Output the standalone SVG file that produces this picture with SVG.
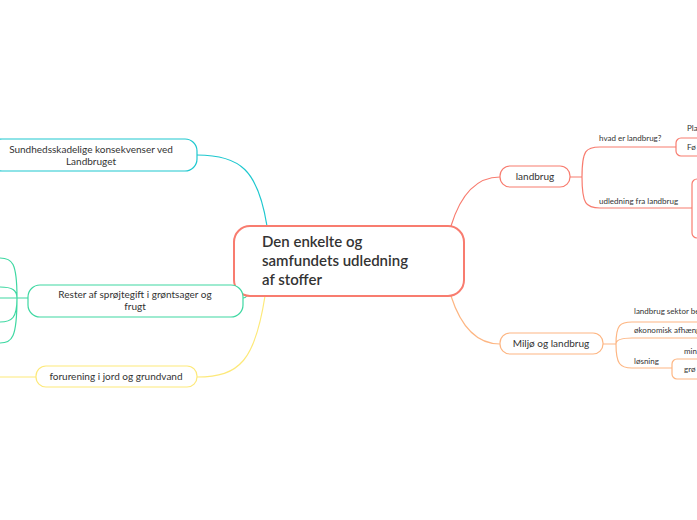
<svg xmlns="http://www.w3.org/2000/svg" width="697" height="520" viewBox="0 0 697 520">
<style>
text{font-family:"Lato","Open Sans",sans-serif;fill:#333;}
.s{font-size:10px}.m{font-size:8px}.n{fill:#fff;stroke-width:1.2}
.c{fill:none;stroke-width:1.2}
</style>
<rect width="697" height="520" fill="#fff"/>
<g id="connectors">
<path class="c" stroke="#1ec8cf" d="M267,226 C258,170 240,155 197,155"/>
<path class="c" stroke="#3ed8a2" d="M248,290 C248,296 246,298 243,298"/>
<path class="c" stroke="#3ed8a2" d="M28,298 H17 M17,298 C17,262 12,258 0,258 M17,298 C17,290 12,287 0,287 M17,298 H0 M17,298 C17,318 12,322 0,322 M17,298 C17,338 12,343 0,343"/>
<path class="c" stroke="#fde97a" d="M265,296 C255,360 240,377 197,377 M36,377 H0"/>
<path class="c" stroke="#f87c6f" d="M451,226 C462,190 480,177 500,177 M570,177 H582 M582,177 C582,150 586,147 600,147 H676 M582,177 C582,204 586,208 600,208 H692"/>
<path class="c" stroke="#fdb683" d="M451,296 C462,330 480,344 500,344 M603,344 H616 M616,344 C616,325 620,322 632,322 H697 M616,344 C616,340 620,338 632,338 H697 M616,344 C616,364 620,368 632,368 H672"/>
</g>
<g id="center"><rect x="234" y="226" width="230" height="70" rx="16" fill="#fff" stroke="#f87c6f" stroke-width="2"/>
<text x="262" y="247" style="font-size:15px;font-weight:600">Den enkelte og</text>
<text x="262" y="266" style="font-size:15px;font-weight:600">samfundets udledning</text>
<text x="262" y="285" style="font-size:15px;font-weight:600">af stoffer</text></g>
<g id="n1"><rect class="n" x="-10" y="139" width="207" height="32" rx="12" stroke="#1ec8cf"/>
<text class="s" x="91" y="153" text-anchor="middle">Sundhedsskadelige konsekvenser ved</text>
<text class="s" x="91" y="165" text-anchor="middle">Landbruget</text></g>
<g id="n2"><rect class="n" x="28" y="285" width="215" height="32" rx="12" stroke="#3ed8a2"/>
<text class="s" x="135" y="298" text-anchor="middle">Rester af sprøjtegift i grøntsager og</text>
<text class="s" x="135" y="310" text-anchor="middle">frugt</text></g>
<g id="n3"><rect class="n" x="36" y="366" width="161" height="21" rx="10" stroke="#fde97a"/>
<text class="s" x="116" y="380" text-anchor="middle">forurening i jord og grundvand</text></g>
<g id="landbrug"><rect class="n" x="500" y="166" width="70" height="21" rx="10" stroke="#f87c6f"/>
<text class="s" x="535" y="180" text-anchor="middle">landbrug</text></g>
<g id="hvad"><text class="m" x="599" y="141">hvad er landbrug?</text></g>
<g id="udledning"><text class="m" x="599" y="204">udledning fra landbrug</text></g>
<g id="pl"><text class="m" x="687" y="131">Pla</text></g>
<g id="fo"><rect class="n" x="676" y="138" width="30" height="18" rx="5" stroke="#f87c6f"/><text class="m" x="687" y="150">Fø</text></g>
<g id="box2"><rect class="n" x="692" y="179" width="20" height="59" rx="5" stroke="#f87c6f"/></g>
<g id="miljo"><rect class="n" x="500" y="333" width="103" height="21" rx="10" stroke="#fdb683"/>
<text class="s" x="551" y="347" text-anchor="middle">Miljø og landbrug</text></g>
<g id="sektor"><text class="m" x="634" y="314">landbrug sektor be</text></g>
<g id="okon"><text class="m" x="634" y="333">økonomisk afhæng</text></g>
<g id="losning"><text class="m" x="634" y="364">løsning</text></g>
<g id="min"><text class="m" x="684" y="354">min</text></g>
<g id="gro"><rect class="n" x="672" y="359" width="40" height="20" rx="5" stroke="#fdb683"/><text class="m" x="684" y="372">grø</text></g>
</svg>
